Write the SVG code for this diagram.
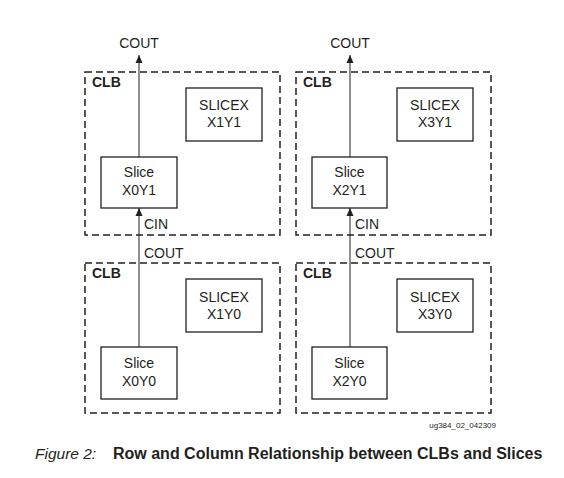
<svg xmlns="http://www.w3.org/2000/svg" width="564" height="478" viewBox="0 0 564 478">
<style>
.clb{fill:none;stroke:#231f20;stroke-width:1.5;stroke-dasharray:7 4}
.box{fill:#fff;stroke:#231f20;stroke-width:1.3}
.t{font-family:"Liberation Sans",Arial,sans-serif;font-size:14px;fill:#231f20}
.c{text-anchor:middle}
.b{font-weight:bold}
.ln{stroke:#231f20;stroke-width:1;fill:none}
</style>
<defs>
<marker id="ah" viewBox="0 0 8 10" refX="8" refY="5" markerWidth="8" markerHeight="10" markerUnits="userSpaceOnUse" orient="auto">
<path d="M0,1.5 L8,5 L0,8.5 Z" fill="#231f20"/>
</marker>
</defs>
<rect width="564" height="478" fill="#fff"/>
<g id="clb-x0y1">
<rect class="clb" x="85" y="72" width="195" height="163"/>
<text class="t b" x="92" y="87">CLB</text>
</g>
<g id="clb-x2y1">
<rect class="clb" x="296" y="72" width="195" height="163"/>
<text class="t b" x="303" y="87">CLB</text>
</g>
<g id="clb-x0y0">
<rect class="clb" x="85" y="263" width="195" height="150"/>
<text class="t b" x="92" y="278">CLB</text>
</g>
<g id="clb-x2y0">
<rect class="clb" x="296" y="263" width="195" height="150"/>
<text class="t b" x="303" y="278">CLB</text>
</g>
<g id="connectors">
<line class="ln" x1="139" y1="157" x2="139" y2="55" marker-end="url(#ah)"/>
<line class="ln" x1="139" y1="347" x2="139" y2="208" marker-end="url(#ah)"/>
<line class="ln" x1="350" y1="157" x2="350" y2="55" marker-end="url(#ah)"/>
<line class="ln" x1="350" y1="347" x2="350" y2="208" marker-end="url(#ah)"/>
<text class="t c" x="139" y="48">COUT</text>
<text class="t c" x="350" y="48">COUT</text>
<text class="t" x="144" y="229">CIN</text>
<text class="t" x="355" y="229">CIN</text>
<text class="t" x="144" y="258">COUT</text>
<text class="t" x="355" y="258">COUT</text>
</g>
<g id="slice-x0y1">
<rect class="box" x="101" y="157" width="76" height="51"/>
<text class="t c" x="139" y="177">Slice</text>
<text class="t c" x="139" y="195">X0Y1</text>
</g>
<g id="slicex-x1y1">
<rect class="box" x="186" y="88" width="76" height="53"/>
<text class="t c" x="224" y="110">SLICEX</text>
<text class="t c" x="224" y="127">X1Y1</text>
</g>
<g id="slice-x2y1">
<rect class="box" x="312" y="157" width="75" height="51"/>
<text class="t c" x="349.5" y="177">Slice</text>
<text class="t c" x="349.5" y="195">X2Y1</text>
</g>
<g id="slicex-x3y1">
<rect class="box" x="397" y="88" width="76" height="53"/>
<text class="t c" x="435" y="110">SLICEX</text>
<text class="t c" x="435" y="127">X3Y1</text>
</g>
<g id="slice-x0y0">
<rect class="box" x="101" y="347" width="76" height="52"/>
<text class="t c" x="139" y="368">Slice</text>
<text class="t c" x="139" y="386">X0Y0</text>
</g>
<g id="slicex-x1y0">
<rect class="box" x="186" y="279" width="76" height="53"/>
<text class="t c" x="224" y="302">SLICEX</text>
<text class="t c" x="224" y="319">X1Y0</text>
</g>
<g id="slice-x2y0">
<rect class="box" x="312" y="347" width="75" height="52"/>
<text class="t c" x="349.5" y="368">Slice</text>
<text class="t c" x="349.5" y="386">X2Y0</text>
</g>
<g id="slicex-x3y0">
<rect class="box" x="397" y="279" width="76" height="53"/>
<text class="t c" x="435" y="302">SLICEX</text>
<text class="t c" x="435" y="319">X3Y0</text>
</g>
<text x="496" y="428" text-anchor="end" style="font-family:'Liberation Sans',Arial,sans-serif;font-size:8px;fill:#231f20">ug384_02_042309</text>
<text x="35" y="459" style="font-family:'Liberation Sans',Arial,sans-serif;font-size:15.5px;font-style:italic;fill:#231f20">Figure 2:</text>
<text x="113" y="459" style="font-family:'Liberation Sans',Arial,sans-serif;font-size:16px;font-weight:bold;fill:#231f20">Row and Column Relationship between CLBs and Slices</text>
</svg>
